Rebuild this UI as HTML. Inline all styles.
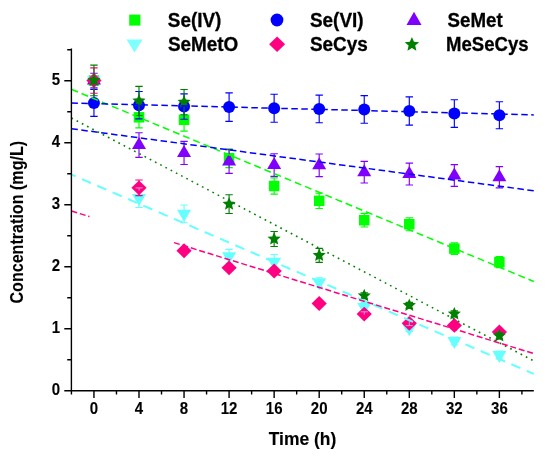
<!DOCTYPE html>
<html><head><meta charset="utf-8"><title>Concentration vs Time</title>
<style>
html,body{margin:0;padding:0;background:#fff;}
body{width:550px;height:460px;overflow:hidden;}
svg{display:block;}
text{font-family:"Liberation Sans",sans-serif;font-weight:bold;fill:#000;stroke:#000;stroke-width:0.3px;}
.tk{font-size:16.7px;stroke-width:0.1px;}
.lg{font-size:19.6px;}
.ti{font-size:19px;stroke-width:0.15px;}
.ty{font-size:17.6px;stroke-width:0.1px;}
</style></head><body>
<svg width="550" height="460" viewBox="0 0 550 460">
<rect width="550" height="460" fill="#fff"/>

<g id="data">
<path fill="none" stroke-width="1.15" stroke="#00ff00" d="M93.95 75.5V85.5M90.25 75.5H97.65M90.25 85.5H97.65M139 106.7V127.9M135.3 106.7H142.7M135.3 127.9H142.7M184.05 108.5V131.1M180.35 108.5H187.75M180.35 131.1H187.75M229.09 148.8V167.6M225.39 148.8H232.79M225.39 167.6H232.79M274.14 177.9V194.1M270.44 177.9H277.84M270.44 194.1H277.84M319.19 193.1V208.5M315.49 193.1H322.89M315.49 208.5H322.89M364.24 213.4V227M360.54 213.4H367.94M360.54 227H367.94M409.29 217.7V230.7M405.59 217.7H412.99M405.59 230.7H412.99M454.33 242.8V254.4M450.63 242.8H458.03M450.63 254.4H458.03M499.38 256.6V267.6M495.68 256.6H503.08M495.68 267.6H503.08"/>
<rect x="88.7" y="75.25" width="10.5" height="10.5" fill="#00ff00"/>
<rect x="133.75" y="112.05" width="10.5" height="10.5" fill="#00ff00"/>
<rect x="178.8" y="114.55" width="10.5" height="10.5" fill="#00ff00"/>
<rect x="223.84" y="152.95" width="10.5" height="10.5" fill="#00ff00"/>
<rect x="268.89" y="180.75" width="10.5" height="10.5" fill="#00ff00"/>
<rect x="313.94" y="195.55" width="10.5" height="10.5" fill="#00ff00"/>
<rect x="358.99" y="214.95" width="10.5" height="10.5" fill="#00ff00"/>
<rect x="404.04" y="218.95" width="10.5" height="10.5" fill="#00ff00"/>
<rect x="449.08" y="243.35" width="10.5" height="10.5" fill="#00ff00"/>
<rect x="494.13" y="256.85" width="10.5" height="10.5" fill="#00ff00"/>
<path fill="none" stroke-width="1.15" stroke="#0000ff" d="M93.95 89.4V116.4M90.25 89.4H97.65M90.25 116.4H97.65M139 91.5V118.9M135.3 91.5H142.7M135.3 118.9H142.7M184.05 93.8V119.2M180.35 93.8H187.75M180.35 119.2H187.75M229.09 92.9V121.3M225.39 92.9H232.79M225.39 121.3H232.79M274.14 94.2V122.2M270.44 94.2H277.84M270.44 122.2H277.84M319.19 95.1V122.7M315.49 95.1H322.89M315.49 122.7H322.89M364.24 95.6V123.2M360.54 95.6H367.94M360.54 123.2H367.94M409.29 96.9V125.1M405.59 96.9H412.99M405.59 125.1H412.99M454.33 99.7V127.3M450.63 99.7H458.03M450.63 127.3H458.03M499.38 101.7V128.7M495.68 101.7H503.08M495.68 128.7H503.08"/>
<circle cx="93.95" cy="102.9" r="6" fill="#0000ff"/>
<circle cx="139" cy="105.2" r="6" fill="#0000ff"/>
<circle cx="184.05" cy="106.5" r="6" fill="#0000ff"/>
<circle cx="229.09" cy="107.1" r="6" fill="#0000ff"/>
<circle cx="274.14" cy="108.2" r="6" fill="#0000ff"/>
<circle cx="319.19" cy="108.9" r="6" fill="#0000ff"/>
<circle cx="364.24" cy="109.4" r="6" fill="#0000ff"/>
<circle cx="409.29" cy="111" r="6" fill="#0000ff"/>
<circle cx="454.33" cy="113.5" r="6" fill="#0000ff"/>
<circle cx="499.38" cy="115.2" r="6" fill="#0000ff"/>
<path fill="none" stroke-width="1.15" stroke="#8000ff" d="M93.95 73.2V87.8M90.25 73.2H97.65M90.25 87.8H97.65M139 132.75V157.35M135.3 132.75H142.7M135.3 157.35H142.7M184.05 141.3V164.5M180.35 141.3H187.75M180.35 164.5H187.75M229.09 149.6V173.4M225.39 149.6H232.79M225.39 173.4H232.79M274.14 153.7V176.3M270.44 153.7H277.84M270.44 176.3H277.84M319.19 154V176.6M315.49 154H322.89M315.49 176.6H322.89M364.24 161.4V183M360.54 161.4H367.94M360.54 183H367.94M409.29 163.15V184.95M405.59 163.15H412.99M405.59 184.95H412.99M454.33 164.6V186.4M450.63 164.6H458.03M450.63 186.4H458.03M499.38 166.65V187.85M495.68 166.65H503.08M495.68 187.85H503.08"/>
<polygon points="93.95,72.5 100.95,84.5 86.95,84.5" fill="#8000ff"/>
<polygon points="139,137.05 146,149.05 132,149.05" fill="#8000ff"/>
<polygon points="184.05,144.9 191.05,156.9 177.05,156.9" fill="#8000ff"/>
<polygon points="229.09,153.5 236.09,165.5 222.09,165.5" fill="#8000ff"/>
<polygon points="274.14,157 281.14,169 267.14,169" fill="#8000ff"/>
<polygon points="319.19,157.3 326.19,169.3 312.19,169.3" fill="#8000ff"/>
<polygon points="364.24,164.2 371.24,176.2 357.24,176.2" fill="#8000ff"/>
<polygon points="409.29,166.05 416.29,178.05 402.29,178.05" fill="#8000ff"/>
<polygon points="454.33,167.5 461.33,179.5 447.33,179.5" fill="#8000ff"/>
<polygon points="499.38,169.25 506.38,181.25 492.38,181.25" fill="#8000ff"/>
<path fill="none" stroke-width="1.15" stroke="#66ffff" d="M93.95 75.5V85.5M90.25 75.5H97.65M90.25 85.5H97.65M139 188.6V207.5M135.3 188.6H142.7M135.3 207.5H142.7M184.05 205V222.7M180.35 205H187.75M180.35 222.7H187.75M229.09 249.3V263.3M225.39 249.3H232.79M225.39 263.3H232.79M274.14 254.5V268.9M270.44 254.5H277.84M270.44 268.9H277.84M319.19 277.7V286.7M315.49 277.7H322.89M315.49 286.7H322.89M364.24 302.4V311.6M360.54 302.4H367.94M360.54 311.6H367.94M409.29 325.3V331.3M405.59 325.3H412.99M405.59 331.3H412.99M454.33 337V345M450.63 337H458.03M450.63 345H458.03M499.38 351V359M495.68 351H503.08M495.68 359H503.08"/>
<polygon points="93.95,88.5 100.95,76.5 86.95,76.5" fill="#66ffff"/>
<polygon points="139,206.05 146,194.05 132,194.05" fill="#66ffff"/>
<polygon points="184.05,221.85 191.05,209.85 177.05,209.85" fill="#66ffff"/>
<polygon points="229.09,264.3 236.09,252.3 222.09,252.3" fill="#66ffff"/>
<polygon points="274.14,269.7 281.14,257.7 267.14,257.7" fill="#66ffff"/>
<polygon points="319.19,290.2 326.19,278.2 312.19,278.2" fill="#66ffff"/>
<polygon points="364.24,315 371.24,303 357.24,303" fill="#66ffff"/>
<polygon points="409.29,336.3 416.29,324.3 402.29,324.3" fill="#66ffff"/>
<polygon points="454.33,349 461.33,337 447.33,337" fill="#66ffff"/>
<polygon points="499.38,363 506.38,351 492.38,351" fill="#66ffff"/>
<path fill="none" stroke-width="1.15" stroke="#ff0080" d="M93.95 67.8V93.2M90.25 67.8H97.65M90.25 93.2H97.65M139 180V195.6M135.3 180H142.7M135.3 195.6H142.7M184.05 248.75V252.75M180.35 248.75H187.75M180.35 252.75H187.75M229.09 265.8V269.8M225.39 265.8H232.79M225.39 269.8H232.79M274.14 269V273M270.44 269H277.84M270.44 273H277.84M319.19 301.5V305.5M315.49 301.5H322.89M315.49 305.5H322.89M364.24 312.1V316.1M360.54 312.1H367.94M360.54 316.1H367.94M409.29 321.3V325.3M405.59 321.3H412.99M405.59 325.3H412.99M454.33 323.4V327.4M450.63 323.4H458.03M450.63 327.4H458.03M499.38 330V334M495.68 330H503.08M495.68 334H503.08"/>
<polygon points="93.95,73.1 101.55,80.5 93.95,87.9 86.35,80.5" fill="#ff0080"/>
<polygon points="139,180.4 146.6,187.8 139,195.2 131.4,187.8" fill="#ff0080"/>
<polygon points="184.05,243.35 191.65,250.75 184.05,258.15 176.45,250.75" fill="#ff0080"/>
<polygon points="229.09,260.4 236.69,267.8 229.09,275.2 221.49,267.8" fill="#ff0080"/>
<polygon points="274.14,263.6 281.74,271 274.14,278.4 266.54,271" fill="#ff0080"/>
<polygon points="319.19,296.1 326.79,303.5 319.19,310.9 311.59,303.5" fill="#ff0080"/>
<polygon points="364.24,306.7 371.84,314.1 364.24,321.5 356.64,314.1" fill="#ff0080"/>
<polygon points="409.29,315.9 416.89,323.3 409.29,330.7 401.69,323.3" fill="#ff0080"/>
<polygon points="454.33,318 461.93,325.4 454.33,332.8 446.73,325.4" fill="#ff0080"/>
<polygon points="499.38,324.6 506.98,332 499.38,339.4 491.78,332" fill="#ff0080"/>
<path fill="none" stroke-width="1.15" stroke="#008000" d="M93.95 65.1V95.7M90.25 65.1H97.65M90.25 95.7H97.65M139 86.3V115.5M135.3 86.3H142.7M135.3 115.5H142.7M184.05 89.5V114.7M180.35 89.5H187.75M180.35 114.7H187.75M229.09 194.7V213.5M225.39 194.7H232.79M225.39 213.5H232.79M274.14 231.5V246.5M270.44 231.5H277.84M270.44 246.5H277.84M319.19 248.35V262.35M315.49 248.35H322.89M315.49 262.35H322.89M364.24 292.7V298.7M360.54 292.7H367.94M360.54 298.7H367.94M409.29 302.4V308.4M405.59 302.4H412.99M405.59 308.4H412.99M454.33 310.8V316.8M450.63 310.8H458.03M450.63 316.8H458.03M499.38 332.8V338.8M495.68 332.8H503.08M495.68 338.8H503.08"/>
<polygon points="93.95,73.5 95.82,77.83 100.51,78.27 96.97,81.38 98.01,85.98 93.95,83.57 89.89,85.98 90.93,81.38 87.39,78.27 92.08,77.83" fill="#008000"/>
<polygon points="139,94 140.86,98.33 145.56,98.77 142.02,101.88 143.05,106.48 139,104.07 134.94,106.48 135.98,101.88 132.44,98.77 137.13,98.33" fill="#008000"/>
<polygon points="184.05,95.2 185.91,99.53 190.61,99.97 187.06,103.08 188.1,107.68 184.05,105.27 179.99,107.68 181.03,103.08 177.48,99.97 182.18,99.53" fill="#008000"/>
<polygon points="229.09,197.2 230.96,201.53 235.66,201.97 232.11,205.08 233.15,209.68 229.09,207.27 225.04,209.68 226.08,205.08 222.53,201.97 227.23,201.53" fill="#008000"/>
<polygon points="274.14,232.1 276.01,236.43 280.7,236.87 277.16,239.98 278.2,244.58 274.14,242.17 270.09,244.58 271.12,239.98 267.58,236.87 272.28,236.43" fill="#008000"/>
<polygon points="319.19,248.45 321.06,252.78 325.75,253.22 322.21,256.33 323.25,260.93 319.19,258.52 315.13,260.93 316.17,256.33 312.63,253.22 317.32,252.78" fill="#008000"/>
<polygon points="364.24,288.8 366.1,293.13 370.8,293.57 367.26,296.68 368.29,301.28 364.24,298.87 360.18,301.28 361.22,296.68 357.68,293.57 362.37,293.13" fill="#008000"/>
<polygon points="409.29,298.5 411.15,302.83 415.85,303.27 412.3,306.38 413.34,310.98 409.29,308.57 405.23,310.98 406.27,306.38 402.72,303.27 407.42,302.83" fill="#008000"/>
<polygon points="454.33,306.9 456.2,311.23 460.9,311.67 457.35,314.78 458.39,319.38 454.33,316.97 450.28,319.38 451.32,314.78 447.77,311.67 452.47,311.23" fill="#008000"/>
<polygon points="499.38,328.9 501.25,333.23 505.94,333.67 502.4,336.78 503.44,341.38 499.38,338.97 495.33,341.38 496.36,336.78 492.82,333.67 497.52,333.23" fill="#008000"/>
</g>
<path fill="none" stroke="#c9b4e6" stroke-width="1" opacity="0.85" d="M135.5 187.9H142.7M139.1 187.9V190.4M360.7 311.8H367.9M364.3 311.8V314.6M409.3 319V325.6M405.8 325.6H412.8"/>
<g id="fits" fill="none">
<line x1="71.4" y1="89.3" x2="533.8" y2="281.5" stroke="#00ff00" stroke-width="1.5" stroke-dasharray="7 4" stroke-dashoffset="0"/>
<line x1="71.4" y1="103" x2="533.8" y2="114.9" stroke="#0000ff" stroke-width="1.5" stroke-dasharray="6.5 3.5" stroke-dashoffset="0"/>
<line x1="71.4" y1="128.7" x2="533.8" y2="190.8" stroke="#0000ff" stroke-width="1.5" stroke-dasharray="6.5 3.5" stroke-dashoffset="0"/>
<line x1="71.4" y1="118" x2="533.8" y2="360.9" stroke="#008000" stroke-width="1.55" stroke-dasharray="1.7 4.2" stroke-dashoffset="0"/>
<line x1="71.4" y1="174.6" x2="533.8" y2="373.9" stroke="#66ffff" stroke-width="2" stroke-dasharray="9.8 6.9" stroke-dashoffset="5.2"/>
<line x1="71.4" y1="211" x2="89.5" y2="216.58" stroke="#ff0080" stroke-width="1.5" stroke-dasharray="6 2.8" stroke-dashoffset="0"/>
<line x1="174" y1="242.64" x2="533.8" y2="353.6" stroke="#ff0080" stroke-width="1.5" stroke-dasharray="6 2.8" stroke-dashoffset="0"/>
</g>
<g id="axes" stroke="#000" stroke-width="1.4" fill="none">
<path d="M71.4 48.4V391.4M64.3 390.7H533.8"/>
<path d="M64.3 328.7H71.4M64.3 266.7H71.4M64.3 204.7H71.4M64.3 142.7H71.4M64.3 80.7H71.4M67.2 359.7H71.4M67.2 297.7H71.4M67.2 235.7H71.4M67.2 173.7H71.4M67.2 111.7H71.4M67.2 49.7H71.4M93.95 390.7V397.9M139 390.7V397.9M184.05 390.7V397.9M229.09 390.7V397.9M274.14 390.7V397.9M319.19 390.7V397.9M364.24 390.7V397.9M409.29 390.7V397.9M454.33 390.7V397.9M499.38 390.7V397.9M71.43 390.7V394.6M116.47 390.7V394.6M161.52 390.7V394.6M206.57 390.7V394.6M251.62 390.7V394.6M296.67 390.7V394.6M341.71 390.7V394.6M386.76 390.7V394.6M431.81 390.7V394.6M476.86 390.7V394.6M521.91 390.7V394.6"/>
</g>
<text class="tk" transform="translate(60 394.7) scale(0.9 1)" text-anchor="end">0</text>
<text class="tk" transform="translate(60 332.7) scale(0.9 1)" text-anchor="end">1</text>
<text class="tk" transform="translate(60 270.7) scale(0.9 1)" text-anchor="end">2</text>
<text class="tk" transform="translate(60 208.7) scale(0.9 1)" text-anchor="end">3</text>
<text class="tk" transform="translate(60 146.7) scale(0.9 1)" text-anchor="end">4</text>
<text class="tk" transform="translate(60 84.7) scale(0.9 1)" text-anchor="end">5</text>
<text class="tk" transform="translate(93.95 413.9) scale(0.9 1)" text-anchor="middle">0</text>
<text class="tk" transform="translate(139 413.9) scale(0.9 1)" text-anchor="middle">4</text>
<text class="tk" transform="translate(184.05 413.9) scale(0.9 1)" text-anchor="middle">8</text>
<text class="tk" transform="translate(229.09 413.9) scale(0.9 1)" text-anchor="middle">12</text>
<text class="tk" transform="translate(274.14 413.9) scale(0.9 1)" text-anchor="middle">16</text>
<text class="tk" transform="translate(319.19 413.9) scale(0.9 1)" text-anchor="middle">20</text>
<text class="tk" transform="translate(364.24 413.9) scale(0.9 1)" text-anchor="middle">24</text>
<text class="tk" transform="translate(409.29 413.9) scale(0.9 1)" text-anchor="middle">28</text>
<text class="tk" transform="translate(454.33 413.9) scale(0.9 1)" text-anchor="middle">32</text>
<text class="tk" transform="translate(499.38 413.9) scale(0.9 1)" text-anchor="middle">36</text>
<text class="ti" transform="translate(302.5 444.8) scale(0.92 1)" text-anchor="middle">Time (h)</text>
<text class="ty" transform="translate(23.2 222.2) rotate(-90) scale(0.915 1)" text-anchor="middle">Concentration (mg/L)</text>
<g id="legend">
<rect x="129.2" y="14.6" width="11.2" height="11" fill="#00ff00"/>
<polygon points="126.5,39.6 142.5,39.6 134.5,52.6" fill="#80ffff"/>
<circle cx="277" cy="20" r="6.4" fill="#0000ff"/>
<polygon points="277.1,36.6 285.1,44.3 277.1,52 269.1,44.3" fill="#ff0080"/>
<polygon points="414,11.8 421.5,24.9 406.5,24.9" fill="#8000ff"/>
<polygon points="411.9,36.91 413.95,41.68 419.12,42.15 415.22,45.58 416.36,50.64 411.9,47.99 407.44,50.64 408.58,45.58 404.68,42.15 409.85,41.68" fill="#008000"/>
<text class="lg" transform="translate(167.8 26.6) scale(0.965 1)" text-anchor="start">Se(IV)</text>
<text class="lg" transform="translate(167.9 50.7) scale(0.965 1)" text-anchor="start">SeMetO</text>
<text class="lg" transform="translate(310 26.6) scale(0.965 1)" text-anchor="start">Se(VI)</text>
<text class="lg" transform="translate(310 50.7) scale(0.965 1)" text-anchor="start">SeCys</text>
<text class="lg" transform="translate(447.6 26.6) scale(0.955 1)" text-anchor="start">SeMet</text>
<text class="lg" transform="translate(446 50.7) scale(0.948 1)" text-anchor="start">MeSeCys</text>
</g>
</svg></body></html>
